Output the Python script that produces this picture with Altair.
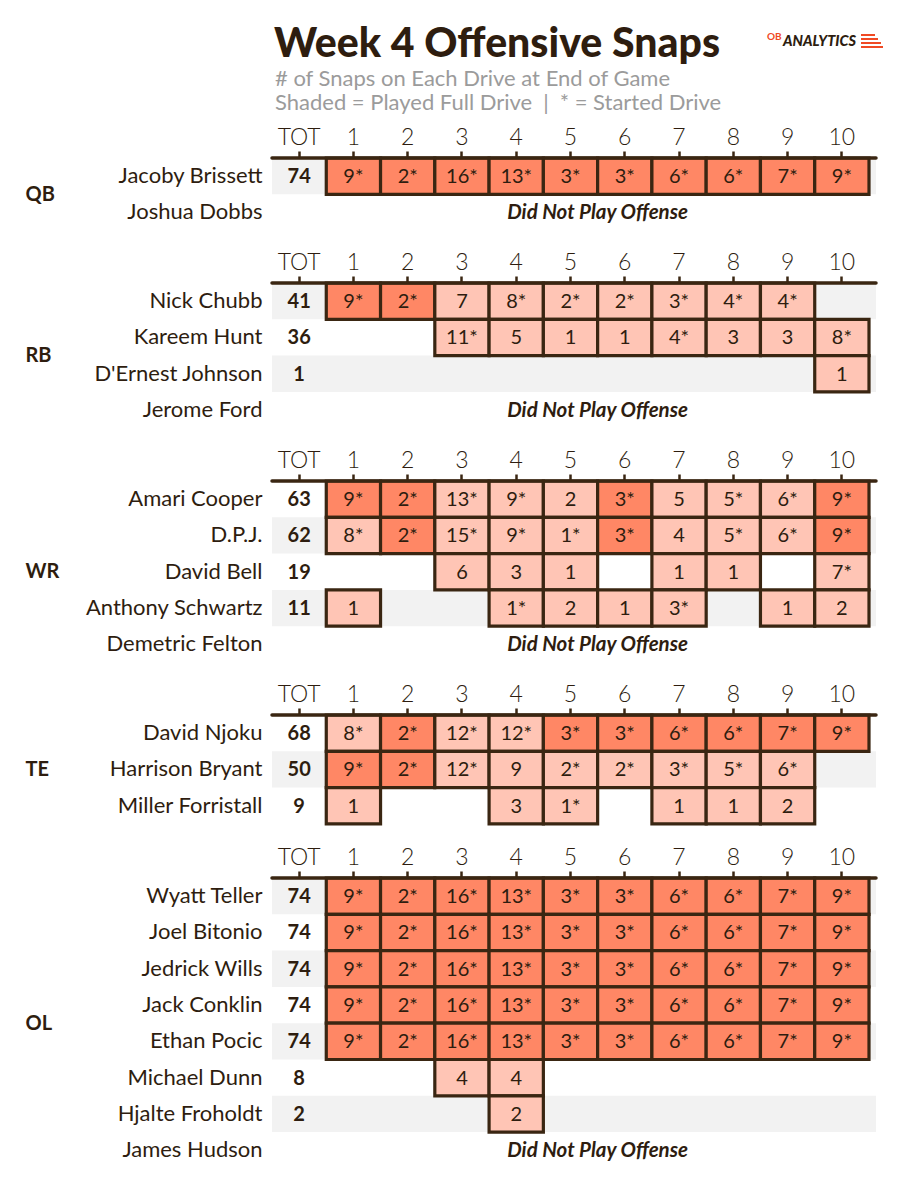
import altair as alt
import pandas as pd

# ---------------- data ----------------
columns = ["TOT", "1", "2", "3", "4", "5", "6", "7", "8", "9", "10"]
group_order = ["QB", "RB", "WR", "TE", "OL"]

names = ["Jacoby Brissett", "Joshua Dobbs",
         "Nick Chubb", "Kareem Hunt", "D'Ernest Johnson", "Jerome Ford",
         "Amari Cooper", "D.P.J.", "David Bell", "Anthony Schwartz", "Demetric Felton",
         "David Njoku", "Harrison Bryant", "Miller Forristall",
         "Wyatt Teller", "Joel Bitonio", "Jedrick Wills", "Jack Conklin", "Ethan Pocic",
         "Michael Dunn", "Hjalte Froholdt", "James Hudson"]
positions = ["QB"] * 2 + ["RB"] * 4 + ["WR"] * 5 + ["TE"] * 3 + ["OL"] * 8
totals = [74, None, 41, 36, 1, None, 63, 62, 19, 11, None, 68, 50, 9,
          74, 74, 74, 74, 74, 8, 2, None]

full_game = ["9*", "2*", "16*", "13*", "3*", "3*", "6*", "6*", "7*", "9*"]
snaps = [
    full_game, None,
    ["9*", "2*", "7", "8*", "2*", "2*", "3*", "4*", "4*", ""],
    ["", "", "11*", "5", "1", "1", "4*", "3", "3", "8*"],
    ["", "", "", "", "", "", "", "", "", "1"],
    None,
    ["9*", "2*", "13*", "9*", "2", "3*", "5", "5*", "6*", "9*"],
    ["8*", "2*", "15*", "9*", "1*", "3*", "4", "5*", "6*", "9*"],
    ["", "", "6", "3", "1", "", "1", "1", "", "7*"],
    ["1", "", "", "1*", "2", "1", "3*", "", "1", "2"],
    None,
    ["8*", "2*", "12*", "12*", "3*", "3*", "6*", "6*", "7*", "9*"],
    ["9*", "2*", "12*", "9", "2*", "2*", "3*", "5*", "6*", ""],
    ["1", "", "", "3", "1*", "", "1", "1", "2", ""],
    full_game, full_game, full_game, full_game, full_game,
    ["", "", "4", "4", "", "", "", "", "", ""],
    ["", "", "", "2", "", "", "", "", "", ""],
    None,
]
# F = played full drive (shaded dark), P = partial drive, - = no snaps
drive_kind = ["FFFFFFFFFF", None,
              "FFPPPPPPP-", "--PPPPPPPP", "---------P", None,
              "FFPPPFPPPF", "PFPPPFPPPF", "--PPP-PP-P", "P--PPPP-PP", None,
              "PFPPFFFFFF", "FFPPPPPPP-", "P--PP-PPP-",
              "FFFFFFFFFF", "FFFFFFFFFF", "FFFFFFFFFF", "FFFFFFFFFF", "FFFFFFFFFF",
              "--PP------", "---P------", None]

# ---------------- style ----------------
DARK = "#2e1d0f"
STROKE = "#3a2612"
FULL = "#ff8765"
PART = "#ffc5b5"
BAND = "#f2f2f2"
ORANGE = "#f04a24"
FONT = "Lato"
STEP = 36.3
W = 597

cells, tots, rows = [], [], []
for i, (n, g, t, s, k) in enumerate(zip(names, positions, totals, snaps, drive_kind)):
    rows.append({"name": n, "group": g, "dnp": s is None, "idx": i})
    if t is not None:
        tots.append({"name": n, "group": g, "col": "TOT", "label": str(t)})
    if s is not None:
        for c, (v, kk) in enumerate(zip(s, k)):
            if v != "":
                cells.append({"name": n, "group": g, "col": columns[c + 1],
                              "label": v, "kind": kk})
rows_df = pd.DataFrame(rows)
# stripes: counted from the bottom of each position group
rows_df["pos_in_group"] = rows_df.groupby("group").cumcount()
rows_df["n_group"] = rows_df.groupby("group")["name"].transform("count")
rows_df["shade"] = ((rows_df["n_group"] - 1 - rows_df["pos_in_group"]) % 2) == 1
cells_df = pd.DataFrame(cells)
tots_df = pd.DataFrame(tots)

xscale = alt.Scale(domain=columns, paddingInner=0, paddingOuter=0)


def header_layers(df):
    h = alt.Chart(df)
    out = [
        h.mark_text(font=FONT, fontSize=41, fontWeight=900, color=DARK, align="left",
                    baseline="alphabetic").encode(
            x=alt.value(2), y=alt.value(-101), text=alt.value("Week 4 Offensive Snaps")),
        h.mark_text(font=FONT, fontSize=22, color="#9b9b9b", align="left",
                    baseline="alphabetic").encode(
            x=alt.value(3), y=alt.value(-72),
            text=alt.value("# of Snaps on Each Drive at End of Game")),
        h.mark_text(font=FONT, fontSize=22, color="#9b9b9b", align="left",
                    baseline="alphabetic").encode(
            x=alt.value(3), y=alt.value(-48),
            text=alt.value("Shaded = Played Full Drive\u2002|\u2002* = Started Drive")),
        h.mark_text(font=FONT, fontSize=10, fontWeight="bold", color=ORANGE, align="left",
                    baseline="alphabetic").encode(
            x=alt.value(495), y=alt.value(-118), text=alt.value("OB")),
        h.mark_text(font=FONT, fontSize=14.5, fontWeight=900,
                    fontStyle="italic", color=DARK,
                    align="left", baseline="alphabetic").encode(
            x=alt.value(511), y=alt.value(-112), text=alt.value("ANALYTICS")),
    ]
    for yy, ln in [(-123, 14), (-119, 17), (-115, 20), (-111, 22)]:
        out.append(h.mark_rule(color=ORANGE, strokeWidth=2).encode(
            x=alt.value(589), x2=alt.value(589 + ln), y=alt.value(yy)))
    return out


def panel(g, with_header=False):
    rdf = rows_df[rows_df.group == g]
    order = list(rdf["name"])
    n = len(order)
    yscale = alt.Scale(domain=order, paddingInner=0, paddingOuter=0)
    yaxis = alt.Axis(title=g, titleAngle=0, titleAlign="left", titleBaseline="middle",
                     titleX=-247, titleY=n * STEP / 2, titleFontSize=20,
                     titleFont=FONT, titleFontWeight="bold", titleColor=DARK,
                     labelFont=FONT, labelFontSize=22, labelColor=DARK,
                     labelPadding=10, labelLimit=0, ticks=False, domain=False)
    xaxis = alt.Axis(title=None, orient="top", labelAngle=0, labelFont=FONT,
                     labelFontSize=23, labelFontWeight=300, labelColor=DARK,
                     labelPadding=2, tickSize=7, tickWidth=2.5, tickColor=STROKE,
                     domain=False, labelFlush=False)

    band = alt.Chart(rdf[rdf.shade]).mark_rect(color=BAND).encode(
        x=alt.value(0), x2=alt.value(W + 7),
        y=alt.Y("name:N", scale=yscale, axis=yaxis, sort=order))
    base_axis = alt.Chart(rdf).mark_point(opacity=0).encode(
        x=alt.X("col:N", scale=xscale, axis=xaxis),
        y=alt.Y("name:N", scale=yscale, axis=yaxis, sort=order)
    ).transform_calculate(col="'TOT'")
    cdf = cells_df[cells_df.group == g]
    rect = alt.Chart(cdf).mark_rect(stroke=STROKE, strokeWidth=3.2).encode(
        x=alt.X("col:N", scale=xscale, axis=xaxis),
        y=alt.Y("name:N", scale=yscale, axis=yaxis, sort=order),
        color=alt.Color("kind:N", scale=alt.Scale(domain=["F", "P"], range=[FULL, PART]),
                        legend=None))
    ctext = alt.Chart(cdf).mark_text(font=FONT, fontSize=20, color=DARK, dy=1).encode(
        x=alt.X("col:N", scale=xscale), y=alt.Y("name:N", scale=yscale, sort=order),
        text="label:N")
    tdf = tots_df[tots_df.group == g]
    ttext = alt.Chart(tdf).mark_text(font=FONT, fontSize=20, fontWeight="bold",
                                     color=DARK, dy=1).encode(
        x=alt.X("col:N", scale=xscale), y=alt.Y("name:N", scale=yscale, sort=order),
        text="label:N")
    dnp = alt.Chart(rdf[rdf.dnp]).mark_text(font=FONT, fontSize=20.5, fontWeight="bold",
                                           fontStyle="italic", color=DARK, dy=1).encode(
        x=alt.value(W / 11 * 6), y=alt.Y("name:N", scale=yscale, sort=order),
        text=alt.value("Did Not Play Offense"))
    line = alt.Chart(rdf.head(1)).mark_rule(color=STROKE, strokeWidth=3.5,
                                            strokeCap="round").encode(
        x=alt.value(0), x2=alt.value(W + 7), y=alt.value(0))
    layers = [band, base_axis, rect, ctext, ttext, dnp, line]
    if with_header:
        layers += header_layers(rdf.head(1))
    return alt.layer(*layers).properties(width=W, height=n * STEP)


panels = [panel(g, with_header=(g == "QB")) for g in group_order]

chart = alt.vconcat(*panels, spacing=20).resolve_scale(
    y="independent", x="independent", color="shared"
).properties(
    padding={"left": 17, "top": 16, "right": 5, "bottom": 5},
    background="white"
).configure_view(stroke=None)

chart.save("out.html", embed_options={"renderer": "svg", "actions": False})
